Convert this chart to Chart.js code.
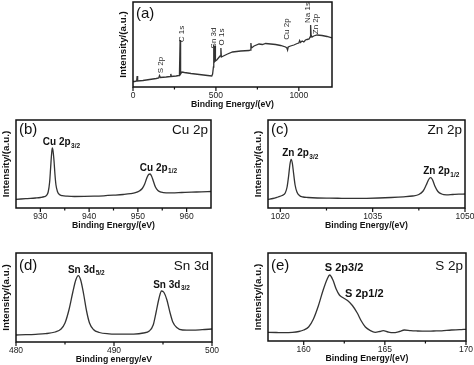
<!DOCTYPE html>
<html><head><meta charset="utf-8">
<script src="https://cdn.jsdelivr.net/npm/chart.js@4.4.1/dist/chart.umd.min.js"></script>
<style>
body{margin:0;background:#fff;width:474px;height:365px;position:relative;overflow:hidden}
canvas{position:absolute}
</style></head><body>
<canvas id="pa" width="218" height="110" style="left:117px;top:0px"></canvas>
<canvas id="pb" width="214" height="113" style="left:0px;top:118px"></canvas>
<canvas id="pc" width="222" height="113" style="left:252px;top:118px"></canvas>
<canvas id="pd" width="224" height="114" style="left:0px;top:251px"></canvas>
<canvas id="pe" width="222" height="113" style="left:252px;top:251px"></canvas>
<script>
// ---------- DATA ----------
// (a) survey spectrum
const surveyEnergy = [0,10,22,25,28,60,100,140,155,160,165,200,225,228,231,260,280,284,287,295,310,350,400,450,475,480,485,487,489,493,495,497,505,515,525,530,533,545,570,600,650,700,708,711,714,730,760,780,800,830,860,890,920,928,932,936,950,970,990,1000,1005,1010,1020,1030,1040,1050,1062,1068,1071,1074,1080,1090,1110,1140,1170,1200];
const surveyIntensity = [5.5,5.5,6,11,6,6.5,7.5,8.5,9,11.5,9.5,10,10.5,13,10.5,11,11.5,47,13,15,14.5,13.5,12.5,11.5,11,13,20,42,24,24,41,26,27,29,31,39,30,31,33,35,36,36.5,37,44,39,41,43,42.5,43.5,43,42.5,41.5,40,39,37,40,41,42,43.5,44,46.5,44.5,46,45,47,47.5,48,50,62,52,50,51,52,51.5,50.5,49];
const surveyTicks = [0, 500, 1000];
const surveyMinorTicks = [250, 750];
const surveyLabelText = ['S 2p','C 1s','Sn 3d','O 1s','Cu 2p','Na 1s','Zn 2p'];
const surveyLabelEnergy = [167, 295, 485, 536, 928, 1054, 1102];
const surveyLabelIntensity = [22, 53, 49, 50, 58, 74.5, 63];

// (b) Cu 2p
const cuEnergy = [925,926,927,928,929,930,930.8,931.3,931.6,931.9,932.1,932.3,932.45,932.6,932.8,933.0,933.2,933.5,933.9,934.5,935.5,937,939,941,943,945,947,948.5,949.5,950.3,950.9,951.4,951.8,952.2,952.5,952.8,953.2,953.6,954.1,954.8,955.8,957,959,961,963,965];
const cuIntensity = [8.7,9,9.3,9.6,10,10.5,11.3,12.8,16,26,40,54,60,57,47,33,23,16.5,13.5,12.3,11.8,11.5,11.6,11.8,12.2,12.8,13.5,14.3,15.3,17,19.5,24,29.5,33.5,34,32,26.5,21,17.5,15.8,15.2,15.2,15.5,15.8,16.2,16.5];
const cuTicks = [930, 940, 950, 960];
const cuMinorTicks = [935, 945, 955];
const cuPeakMain = ['Cu 2p', 'Cu 2p'];
const cuPeakSub = ['3/2', '1/2'];
const cuPeakEnergy = [930.5, 950.4];
const cuPeakIntensity = [63, 37.3];

// (c) Zn 2p
const znEnergy = [1018,1018.8,1019.6,1020.3,1020.8,1021.1,1021.35,1021.55,1021.75,1021.95,1022.15,1022.4,1022.7,1023.1,1023.7,1024.5,1026,1028,1030,1032,1034,1036,1038,1040,1041.5,1042.5,1043.2,1043.7,1044.1,1044.4,1044.7,1045.1,1045.6,1046.2,1047,1048,1049,1050];
const znIntensity = [8.7,9.5,11,12.5,15,21,32,43,48.7,45,35,23,16,12.5,11,10.5,10,9.8,9.7,9.6,9.7,10,10.5,11.2,12,13.5,17,23,28.5,30.3,28.5,22,16.5,14,13.2,13.5,13.8,14];
const znTicks = [1020, 1035, 1050];
const znMinorTicks = [1027.5, 1042.5];
const znPeakMain = ['Zn 2p', 'Zn 2p'];
const znPeakSub = ['3/2', '1/2'];
const znPeakEnergy = [1020.3, 1043.2];
const znPeakIntensity = [52, 34];

// (d) Sn 3d
const snEnergy = [480,481,482,483,484,484.6,485.0,485.4,485.8,486.1,486.35,486.6,486.9,487.2,487.5,487.9,488.5,489.5,491,492,493,493.6,494.0,494.3,494.6,494.85,495.1,495.4,495.7,496.0,496.4,497,498,499,500];
const snIntensity = [7,7.3,7.7,8.3,10,13,19,32,50,62,66.3,62,48,31,19,12.5,9.5,8.2,7.8,7.9,9,11,17,30,44,51,49.5,42,30,20,14.5,12,11.8,12.3,13];
const snTicks = [480, 490, 500];
const snMinorTicks = [485, 495];
const snPeakMain = ['Sn 3d', 'Sn 3d'];
const snPeakSub = ['5/2', '3/2'];
const snPeakEnergy = [485.3, 494.0];
const snPeakIntensity = [69.3, 54.3];

// (e) S 2p
const sEnergy = [157.8,158.3,158.8,159.3,159.7,160.0,160.3,160.6,160.9,161.2,161.45,161.6,161.8,162.0,162.2,162.4,162.7,163.0,163.3,163.55,163.8,164.1,164.4,164.7,164.9,165.2,165.5,165.9,166.2,166.6,167.0,167.5,168.0,168.5,169.1,169.6,170.0];
const sIntensity = [8.7,8.5,8.3,8.6,9.5,11,14,22,35,51,62,66,61,52,46,43.5,40.5,35.5,28,20,14,10.5,8.7,9.5,10.3,9,8.3,9.5,11,10.3,10,9.8,10,10.2,11,11.3,11.7];
const sTicks = [160, 165, 170];
const sMinorTicks = [162.5, 167.5];
const sPeakMain = ['S 2p3/2', 'S 2p1/2'];
const sPeakSub = ['', ''];
const sPeakEnergy = [161.3, 162.55];
const sPeakIntensity = [70, 43.7];

// ---------- DRAWING ----------
const FONT = '"Liberation Sans", Arial, Helvetica, sans-serif';
const lineColor = '#333';
const inkColor = '#111';

const framePlugin = {
  id: 'frame',
  afterDraw(chart, args, o) {
    const ctx = chart.ctx, a = chart.chartArea, xs = chart.scales.x, ys = chart.scales.y;
    ctx.save();
    ctx.strokeStyle = inkColor;
    ctx.lineWidth = 1.5;
    ctx.strokeRect(a.left, a.top, a.right - a.left, a.bottom - a.top);
    ctx.lineWidth = 1.2;
    ctx.beginPath();
    o.major.forEach(v => { const x = xs.getPixelForValue(v); ctx.moveTo(x, a.bottom); ctx.lineTo(x, a.bottom + 4); });
    o.minor.forEach(v => { const x = xs.getPixelForValue(v); ctx.moveTo(x, a.bottom); ctx.lineTo(x, a.bottom + 2.5); });
    ctx.stroke();
    ctx.fillStyle = inkColor;
    ctx.textBaseline = 'middle';
    ctx.textAlign = 'left';
    ctx.font = '15px ' + FONT;
    ctx.fillText(o.letter, a.left + 3, a.top + o.letterDy);
    if (o.title) {
      ctx.textAlign = 'right';
      ctx.font = '13.5px ' + FONT;
      ctx.fillText(o.title, a.right - 3, a.top + o.letterDy);
    }
    if (o.peakMain) {
      ctx.textBaseline = 'alphabetic';
      ctx.textAlign = 'left';
      o.peakMain.forEach((m, i) => {
        const x = xs.getPixelForValue(o.peakE[i]), y = ys.getPixelForValue(o.peakI[i]);
        ctx.font = 'bold ' + o.peakSize + 'px ' + FONT;
        ctx.fillText(m, x, y);
        const s = o.peakSub[i];
        if (s) {
          const w = ctx.measureText(m).width;
          ctx.font = 'bold 6.5px ' + FONT;
          ctx.fillText(s, x + w + 0.5, y + 2.5);
        }
      });
    }
    if (o.rotText) {
      ctx.fillStyle = '#2a2a2a';
      ctx.font = '8px ' + FONT;
      ctx.textAlign = 'center';
      ctx.textBaseline = 'middle';
      o.rotText.forEach((t, i) => {
        const x = xs.getPixelForValue(o.rotE[i]), y = ys.getPixelForValue(o.rotI[i]);
        ctx.save();
        ctx.translate(x, y);
        ctx.rotate(-Math.PI / 2);
        ctx.fillText(t, 0, 0);
        ctx.restore();
      });
    }
    ctx.restore();
  }
};

function makePanel(id, energy, intensity, xmin, xmax, ymax, major, minor, xTitle, padRight, frameOpts, tension) {
  const pts = energy.map((e, i) => ({x: e, y: intensity[i]}));
  new Chart(document.getElementById(id), {
    type: 'line',
    data: { datasets: [{ data: pts, borderColor: lineColor, borderWidth: 1.3, pointRadius: 0, fill: false,
      cubicInterpolationMode: tension ? 'monotone' : 'default', tension: 0 }] },
    options: {
      responsive: false, animation: false, devicePixelRatio: 1,
      layout: { padding: { top: 2, right: padRight, left: 0, bottom: 0 } },
      plugins: { legend: { display: false }, tooltip: { enabled: false }, frame: frameOpts },
      scales: {
        x: {
          type: 'linear', min: xmin, max: xmax,
          grid: { display: false, drawTicks: false },
          border: { display: false },
          afterBuildTicks: s => { s.ticks = major.map(v => ({ value: v })); },
          afterFit: s => { s.height = 23; s.paddingLeft = 0; s.paddingRight = 0; },
          ticks: { autoSkip: false, maxRotation: 0, padding: 4, color: '#222',
                   font: { size: 8.5, family: FONT }, callback: v => String(v) },
          title: { display: true, text: xTitle, color: inkColor, padding: 0,
                   font: { size: 8.7, weight: 'bold', family: FONT } }
        },
        y: {
          min: 0, max: ymax,
          grid: { display: false, drawTicks: false },
          border: { display: false },
          ticks: { display: false },
          afterFit: s => { s.width = 16; s.paddingTop = 0; s.paddingBottom = 0; },
          title: { display: true, text: 'Intensity/(a.u.)', color: inkColor, padding: 0,
                   font: { size: 9.8, weight: 'bold', family: FONT } }
        }
      }
    },
    plugins: [framePlugin]
  });
}

makePanel('pa', surveyEnergy, surveyIntensity, 0, 1200, 85, surveyTicks, surveyMinorTicks, 'Binding Energy/(eV)', 3,
  { major: surveyTicks, minor: surveyMinorTicks, letter: '(a)', letterDy: 12, rotText: surveyLabelText, rotE: surveyLabelEnergy, rotI: surveyLabelIntensity }, false);
makePanel('pb', cuEnergy, cuIntensity, 925, 965, 88, cuTicks, cuMinorTicks, 'Binding Energy/(eV)', 3,
  { major: cuTicks, minor: cuMinorTicks, letter: '(b)', title: 'Cu 2p', letterDy: 10, peakMain: cuPeakMain, peakSub: cuPeakSub, peakE: cuPeakEnergy, peakI: cuPeakIntensity, peakSize: 10 }, true);
makePanel('pc', znEnergy, znIntensity, 1018, 1050, 88, znTicks, znMinorTicks, 'Binding Energy/(eV)', 9,
  { major: znTicks, minor: znMinorTicks, letter: '(c)', title: 'Zn 2p', letterDy: 10, peakMain: znPeakMain, peakSub: znPeakSub, peakE: znPeakEnergy, peakI: znPeakIntensity, peakSize: 10 }, true);
makePanel('pd', snEnergy, snIntensity, 480, 500, 89, snTicks, snMinorTicks, 'Binding energy/eV', 12,
  { major: snTicks, minor: snMinorTicks, letter: '(d)', title: 'Sn 3d', letterDy: 13, peakMain: snPeakMain, peakSub: snPeakSub, peakE: snPeakEnergy, peakI: snPeakIntensity, peakSize: 10 }, true);
makePanel('pe', sEnergy, sIntensity, 157.8, 170, 88, sTicks, sMinorTicks, 'Binding Energy/(eV)', 8,
  { major: sTicks, minor: sMinorTicks, letter: '(e)', title: 'S 2p', letterDy: 13, peakMain: sPeakMain, peakSub: sPeakSub, peakE: sPeakEnergy, peakI: sPeakIntensity, peakSize: 11 }, true);
</script>
</body></html>
